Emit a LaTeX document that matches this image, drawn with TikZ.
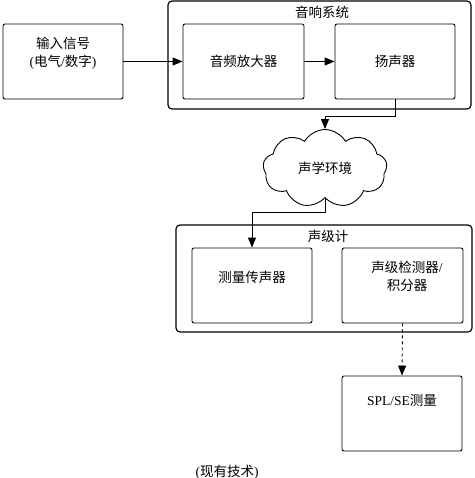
\documentclass[tikz,border=0pt]{standalone}
\usepackage{fontspec}
\setmainfont{Liberation Serif}
\newfontfamily\cjk{Noto Sans CJK SC}
\newcommand{\zh}[1]{{\cjk #1}}
\usetikzlibrary{arrows.meta,shapes.symbols}

\begin{document}
\begin{tikzpicture}[x=1pt,y=-1pt,font=\fontsize{13.5}{18}\selectfont,
	>={Triangle[length=10pt,width=8pt]},
	box/.style={draw,line width=0.9pt,rounded corners=2pt,minimum width=120pt,minimum height=75pt,inner sep=0pt},
	group/.style={draw,line width=1.2pt,rounded corners=4pt,inner sep=0pt},
	link/.style={line width=0.9pt,->}]
	
	\useasboundingbox (0,0) rectangle (474,478);
	
	%------------------------------
	% Input signal
	%------------------------------
	\node[box] (input) at (63,61.5) {};
	\node[align=center] at (63,53) {\zh{输入信号}\\(\zh{电气}/\zh{数字})};
	
	%------------------------------
	% Sound system
	%------------------------------
	\node[group,minimum width=303pt,minimum height=108pt] (system) at (319.5,55) {};
	\node at (322,12) {\zh{音响系统}};
	
	% Amplifier
	\node[box,minimum width=121pt] (amp) at (243.5,61.5) {\zh{音频放大器}};
	
	% Loudspeaker
	\node[box] (spk) at (395,61.5) {\zh{扬声器}};
	
	%------------------------------
	% Acoustic environment (cloud)
	%------------------------------
	\node[cloud,draw,line width=0.9pt,cloud puffs=9,cloud puff arc=120,aspect=1.6,
	minimum width=124pt,minimum height=78pt,inner sep=0pt] (env) at (325,168.5) {\zh{声学环境}};
	
	%------------------------------
	% Sound level meter
	%------------------------------
	\node[group,minimum width=296pt,minimum height=107pt] (meter) at (324,278.5) {};
	\node at (328,236) {\zh{声级计}};
	
	% Measurement microphone
	\node[box] (mic) at (252,285.5) {};
	\node at (252,277) {\zh{测量传声器}};
	
	% Detector / integrator
	\node[box,minimum width=121pt] (det) at (402.5,285.5) {};
	\node[align=center] at (407,276.5) {\zh{声级检测器}/\\\zh{积分器}};
	
	%------------------------------
	% SPL/SE measurement
	%------------------------------
	\node[box] (spl) at (402,413.5) {};
	\node at (402,400) {SPL/SE\zh{测量}};
	
	% Caption
	\node at (227,472) {(\zh{现有技术})};
	
	%------------------------------
	% Connectors
	%------------------------------
	\draw[link] (input) -- (amp);
	\draw[link] (amp) -- (spk);
	\draw[link] (spk.south) -- ++(0,17) -| (env.north);
	\draw[link] (env.south) -- ++(0,14) -| (mic.north);
	\draw[link,dashed] (det.south) -- (spl.north);
	
\end{tikzpicture}
\end{document}
